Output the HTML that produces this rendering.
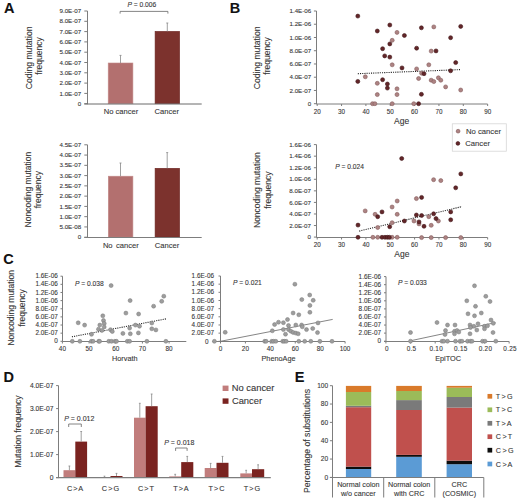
<!DOCTYPE html>
<html><head><meta charset="utf-8"><style>
html,body{margin:0;padding:0;background:#fff;}
body{width:520px;height:500px;overflow:hidden;}
svg{display:block;font-family:"Liberation Sans", sans-serif;}
text{stroke:#444;stroke-width:0.1px;}
</style></head><body>
<svg width="520" height="500" viewBox="0 0 520 500" font-family='"Liberation Sans", sans-serif'>
<rect width="520" height="500" fill="#fff"/>
<text x="4" y="12.8" font-size="14.5" font-weight="bold" fill="#111">A</text>
<line x1="87.50" y1="104.20" x2="87.50" y2="11.00" stroke="#7d7d7d" stroke-width="1" />
<line x1="84.30" y1="103.70" x2="87.50" y2="103.70" stroke="#7d7d7d" stroke-width="1" />
<text x="81.20" y="105.83" font-size="6.2" text-anchor="end" fill="#333" font-weight="normal" font-style="normal" >0</text>
<line x1="84.30" y1="93.40" x2="87.50" y2="93.40" stroke="#7d7d7d" stroke-width="1" />
<text x="81.20" y="95.53" font-size="6.2" text-anchor="end" fill="#333" font-weight="normal" font-style="normal" >1.0E-07</text>
<line x1="84.30" y1="83.10" x2="87.50" y2="83.10" stroke="#7d7d7d" stroke-width="1" />
<text x="81.20" y="85.23" font-size="6.2" text-anchor="end" fill="#333" font-weight="normal" font-style="normal" >2.0E-07</text>
<line x1="84.30" y1="72.80" x2="87.50" y2="72.80" stroke="#7d7d7d" stroke-width="1" />
<text x="81.20" y="74.93" font-size="6.2" text-anchor="end" fill="#333" font-weight="normal" font-style="normal" >3.0E-07</text>
<line x1="84.30" y1="62.50" x2="87.50" y2="62.50" stroke="#7d7d7d" stroke-width="1" />
<text x="81.20" y="64.63" font-size="6.2" text-anchor="end" fill="#333" font-weight="normal" font-style="normal" >4.0E-07</text>
<line x1="84.30" y1="52.20" x2="87.50" y2="52.20" stroke="#7d7d7d" stroke-width="1" />
<text x="81.20" y="54.33" font-size="6.2" text-anchor="end" fill="#333" font-weight="normal" font-style="normal" >5.0E-07</text>
<line x1="84.30" y1="41.90" x2="87.50" y2="41.90" stroke="#7d7d7d" stroke-width="1" />
<text x="81.20" y="44.03" font-size="6.2" text-anchor="end" fill="#333" font-weight="normal" font-style="normal" >6.0E-07</text>
<line x1="84.30" y1="31.60" x2="87.50" y2="31.60" stroke="#7d7d7d" stroke-width="1" />
<text x="81.20" y="33.73" font-size="6.2" text-anchor="end" fill="#333" font-weight="normal" font-style="normal" >7.0E-07</text>
<line x1="84.30" y1="21.30" x2="87.50" y2="21.30" stroke="#7d7d7d" stroke-width="1" />
<text x="81.20" y="23.43" font-size="6.2" text-anchor="end" fill="#333" font-weight="normal" font-style="normal" >8.0E-07</text>
<line x1="84.30" y1="11.00" x2="87.50" y2="11.00" stroke="#7d7d7d" stroke-width="1" />
<text x="81.20" y="13.13" font-size="6.2" text-anchor="end" fill="#333" font-weight="normal" font-style="normal" >9.0E-07</text>
<rect x="108.20" y="63.00" width="24.70" height="40.70" fill="#b3706f" stroke="#c48a89" stroke-width="0.6"/>
<rect x="155.10" y="31.40" width="24.50" height="72.30" fill="#7c322d" stroke="#6b2420" stroke-width="0.6"/>
<line x1="84.30" y1="104.00" x2="201.70" y2="104.00" stroke="#6a6a6a" stroke-width="1" />
<line x1="120.50" y1="63.00" x2="120.50" y2="55.40" stroke="#888" stroke-width="0.8" />
<line x1="119.50" y1="55.40" x2="121.50" y2="55.40" stroke="#888" stroke-width="0.8" />
<line x1="167.30" y1="31.40" x2="167.30" y2="23.00" stroke="#888" stroke-width="0.8" />
<line x1="166.30" y1="23.00" x2="168.30" y2="23.00" stroke="#888" stroke-width="0.8" />
<path d="M120.1 13.6 V11.4 H167.9 V13.6" fill="none" stroke="#666" stroke-width="0.8"/>
<text x="141.8" y="7.1" font-size="6.7" text-anchor="middle" fill="#333"><tspan font-style="italic">P</tspan> = 0.006</text>
<text x="121.00" y="113.64" font-size="7.6" text-anchor="middle" fill="#333" font-weight="normal" font-style="normal" >No cancer</text>
<text x="166.70" y="113.64" font-size="7.6" text-anchor="middle" fill="#333" font-weight="normal" font-style="normal" >Cancer</text>
<text transform="translate(31.51,57.90) rotate(-90)" font-size="8.65" text-anchor="middle" fill="#333">Coding mutation</text>
<text transform="translate(41.86,56.00) rotate(-90)" font-size="8.5" text-anchor="middle" fill="#333">frequency</text>
<line x1="87.50" y1="237.70" x2="87.50" y2="144.80" stroke="#7d7d7d" stroke-width="1" />
<line x1="84.30" y1="237.20" x2="87.50" y2="237.20" stroke="#7d7d7d" stroke-width="1" />
<text x="81.20" y="239.33" font-size="6.2" text-anchor="end" fill="#333" font-weight="normal" font-style="normal" >0</text>
<line x1="84.30" y1="226.93" x2="87.50" y2="226.93" stroke="#7d7d7d" stroke-width="1" />
<text x="81.20" y="229.07" font-size="6.2" text-anchor="end" fill="#333" font-weight="normal" font-style="normal" >5.0E-08</text>
<line x1="84.30" y1="216.67" x2="87.50" y2="216.67" stroke="#7d7d7d" stroke-width="1" />
<text x="81.20" y="218.80" font-size="6.2" text-anchor="end" fill="#333" font-weight="normal" font-style="normal" >1.0E-07</text>
<line x1="84.30" y1="206.40" x2="87.50" y2="206.40" stroke="#7d7d7d" stroke-width="1" />
<text x="81.20" y="208.53" font-size="6.2" text-anchor="end" fill="#333" font-weight="normal" font-style="normal" >1.5E-07</text>
<line x1="84.30" y1="196.13" x2="87.50" y2="196.13" stroke="#7d7d7d" stroke-width="1" />
<text x="81.20" y="198.27" font-size="6.2" text-anchor="end" fill="#333" font-weight="normal" font-style="normal" >2.0E-07</text>
<line x1="84.30" y1="185.87" x2="87.50" y2="185.87" stroke="#7d7d7d" stroke-width="1" />
<text x="81.20" y="188.00" font-size="6.2" text-anchor="end" fill="#333" font-weight="normal" font-style="normal" >2.5E-07</text>
<line x1="84.30" y1="175.60" x2="87.50" y2="175.60" stroke="#7d7d7d" stroke-width="1" />
<text x="81.20" y="177.73" font-size="6.2" text-anchor="end" fill="#333" font-weight="normal" font-style="normal" >3.0E-07</text>
<line x1="84.30" y1="165.33" x2="87.50" y2="165.33" stroke="#7d7d7d" stroke-width="1" />
<text x="81.20" y="167.47" font-size="6.2" text-anchor="end" fill="#333" font-weight="normal" font-style="normal" >3.5E-07</text>
<line x1="84.30" y1="155.07" x2="87.50" y2="155.07" stroke="#7d7d7d" stroke-width="1" />
<text x="81.20" y="157.20" font-size="6.2" text-anchor="end" fill="#333" font-weight="normal" font-style="normal" >4.0E-07</text>
<line x1="84.30" y1="144.80" x2="87.50" y2="144.80" stroke="#7d7d7d" stroke-width="1" />
<text x="81.20" y="146.93" font-size="6.2" text-anchor="end" fill="#333" font-weight="normal" font-style="normal" >4.5E-07</text>
<rect x="108.30" y="176.20" width="24.60" height="61.00" fill="#b3706f" stroke="#c48a89" stroke-width="0.6"/>
<rect x="155.10" y="168.30" width="24.50" height="68.90" fill="#7c322d" stroke="#6b2420" stroke-width="0.6"/>
<line x1="84.30" y1="237.50" x2="201.70" y2="237.50" stroke="#7d7d7d" stroke-width="1" />
<line x1="120.50" y1="176.20" x2="120.50" y2="163.00" stroke="#888" stroke-width="0.8" />
<line x1="119.50" y1="163.00" x2="121.50" y2="163.00" stroke="#888" stroke-width="0.8" />
<line x1="167.20" y1="168.30" x2="167.20" y2="152.60" stroke="#888" stroke-width="0.8" />
<line x1="166.20" y1="152.60" x2="168.20" y2="152.60" stroke="#888" stroke-width="0.8" />
<text x="120.80" y="247.54" font-size="7.6" text-anchor="middle" fill="#333" font-weight="normal" font-style="normal" word-spacing="1.2">No cancer</text>
<text x="167.10" y="247.54" font-size="7.6" text-anchor="middle" fill="#333" font-weight="normal" font-style="normal" >Cancer</text>
<text transform="translate(30.76,189.60) rotate(-90)" font-size="8.5" text-anchor="middle" fill="#333">Noncoding mutation</text>
<text transform="translate(41.16,189.60) rotate(-90)" font-size="8.5" text-anchor="middle" fill="#333">frequency</text>
<text x="229.7" y="12.9" font-size="14.5" font-weight="bold" fill="#111">B</text>
<line x1="316.50" y1="104.20" x2="316.50" y2="11.00" stroke="#7d7d7d" stroke-width="1" />
<line x1="313.90" y1="103.70" x2="316.50" y2="103.70" stroke="#7d7d7d" stroke-width="1" />
<text x="311.20" y="105.83" font-size="6.2" text-anchor="end" fill="#333" font-weight="normal" font-style="normal" >0</text>
<line x1="313.90" y1="90.46" x2="316.50" y2="90.46" stroke="#7d7d7d" stroke-width="1" />
<text x="311.20" y="92.59" font-size="6.2" text-anchor="end" fill="#333" font-weight="normal" font-style="normal" >2.0E-07</text>
<line x1="313.90" y1="77.21" x2="316.50" y2="77.21" stroke="#7d7d7d" stroke-width="1" />
<text x="311.20" y="79.35" font-size="6.2" text-anchor="end" fill="#333" font-weight="normal" font-style="normal" >4.0E-07</text>
<line x1="313.90" y1="63.97" x2="316.50" y2="63.97" stroke="#7d7d7d" stroke-width="1" />
<text x="311.20" y="66.10" font-size="6.2" text-anchor="end" fill="#333" font-weight="normal" font-style="normal" >6.0E-07</text>
<line x1="313.90" y1="50.73" x2="316.50" y2="50.73" stroke="#7d7d7d" stroke-width="1" />
<text x="311.20" y="52.86" font-size="6.2" text-anchor="end" fill="#333" font-weight="normal" font-style="normal" >8.0E-07</text>
<line x1="313.90" y1="37.49" x2="316.50" y2="37.49" stroke="#7d7d7d" stroke-width="1" />
<text x="311.20" y="39.62" font-size="6.2" text-anchor="end" fill="#333" font-weight="normal" font-style="normal" >1.0E-06</text>
<line x1="313.90" y1="24.24" x2="316.50" y2="24.24" stroke="#7d7d7d" stroke-width="1" />
<text x="311.20" y="26.37" font-size="6.2" text-anchor="end" fill="#333" font-weight="normal" font-style="normal" >1.2E-06</text>
<line x1="313.90" y1="11.00" x2="316.50" y2="11.00" stroke="#7d7d7d" stroke-width="1" />
<text x="311.20" y="13.13" font-size="6.2" text-anchor="end" fill="#333" font-weight="normal" font-style="normal" >1.4E-06</text>
<line x1="316.50" y1="104.00" x2="487.60" y2="104.00" stroke="#7d7d7d" stroke-width="1" />
<line x1="317.20" y1="104.00" x2="317.20" y2="106.00" stroke="#7d7d7d" stroke-width="1" />
<text x="317.20" y="113.87" font-size="6.3" text-anchor="middle" fill="#333" font-weight="normal" font-style="normal" >20</text>
<line x1="341.55" y1="104.00" x2="341.55" y2="106.00" stroke="#7d7d7d" stroke-width="1" />
<text x="341.55" y="113.87" font-size="6.3" text-anchor="middle" fill="#333" font-weight="normal" font-style="normal" >30</text>
<line x1="365.90" y1="104.00" x2="365.90" y2="106.00" stroke="#7d7d7d" stroke-width="1" />
<text x="365.90" y="113.87" font-size="6.3" text-anchor="middle" fill="#333" font-weight="normal" font-style="normal" >40</text>
<line x1="390.25" y1="104.00" x2="390.25" y2="106.00" stroke="#7d7d7d" stroke-width="1" />
<text x="390.25" y="113.87" font-size="6.3" text-anchor="middle" fill="#333" font-weight="normal" font-style="normal" >50</text>
<line x1="414.60" y1="104.00" x2="414.60" y2="106.00" stroke="#7d7d7d" stroke-width="1" />
<text x="414.60" y="113.87" font-size="6.3" text-anchor="middle" fill="#333" font-weight="normal" font-style="normal" >60</text>
<line x1="438.95" y1="104.00" x2="438.95" y2="106.00" stroke="#7d7d7d" stroke-width="1" />
<text x="438.95" y="113.87" font-size="6.3" text-anchor="middle" fill="#333" font-weight="normal" font-style="normal" >70</text>
<line x1="463.30" y1="104.00" x2="463.30" y2="106.00" stroke="#7d7d7d" stroke-width="1" />
<text x="463.30" y="113.87" font-size="6.3" text-anchor="middle" fill="#333" font-weight="normal" font-style="normal" >80</text>
<line x1="487.65" y1="104.00" x2="487.65" y2="106.00" stroke="#7d7d7d" stroke-width="1" />
<text x="487.65" y="113.87" font-size="6.3" text-anchor="middle" fill="#333" font-weight="normal" font-style="normal" >90</text>
<text x="401.60" y="123.56" font-size="8.5" text-anchor="middle" fill="#333" font-weight="normal" font-style="normal" >Age</text>
<text transform="translate(259.81,57.90) rotate(-90)" font-size="8.65" text-anchor="middle" fill="#333">Coding mutation</text>
<text transform="translate(270.36,56.00) rotate(-90)" font-size="8.5" text-anchor="middle" fill="#333">frequency</text>
<line x1="316.50" y1="237.60" x2="316.50" y2="144.60" stroke="#7d7d7d" stroke-width="1" />
<line x1="313.90" y1="237.10" x2="316.50" y2="237.10" stroke="#7d7d7d" stroke-width="1" />
<text x="311.00" y="239.23" font-size="6.2" text-anchor="end" fill="#333" font-weight="normal" font-style="normal" >0</text>
<line x1="313.90" y1="225.54" x2="316.50" y2="225.54" stroke="#7d7d7d" stroke-width="1" />
<text x="311.00" y="227.67" font-size="6.2" text-anchor="end" fill="#333" font-weight="normal" font-style="normal" >2.0E-07</text>
<line x1="313.90" y1="213.97" x2="316.50" y2="213.97" stroke="#7d7d7d" stroke-width="1" />
<text x="311.00" y="216.11" font-size="6.2" text-anchor="end" fill="#333" font-weight="normal" font-style="normal" >4.0E-07</text>
<line x1="313.90" y1="202.41" x2="316.50" y2="202.41" stroke="#7d7d7d" stroke-width="1" />
<text x="311.00" y="204.54" font-size="6.2" text-anchor="end" fill="#333" font-weight="normal" font-style="normal" >6.0E-07</text>
<line x1="313.90" y1="190.85" x2="316.50" y2="190.85" stroke="#7d7d7d" stroke-width="1" />
<text x="311.00" y="192.98" font-size="6.2" text-anchor="end" fill="#333" font-weight="normal" font-style="normal" >8.0E-07</text>
<line x1="313.90" y1="179.29" x2="316.50" y2="179.29" stroke="#7d7d7d" stroke-width="1" />
<text x="311.00" y="181.42" font-size="6.2" text-anchor="end" fill="#333" font-weight="normal" font-style="normal" >1.0E-06</text>
<line x1="313.90" y1="167.72" x2="316.50" y2="167.72" stroke="#7d7d7d" stroke-width="1" />
<text x="311.00" y="169.86" font-size="6.2" text-anchor="end" fill="#333" font-weight="normal" font-style="normal" >1.2E-06</text>
<line x1="313.90" y1="156.16" x2="316.50" y2="156.16" stroke="#7d7d7d" stroke-width="1" />
<text x="311.00" y="158.29" font-size="6.2" text-anchor="end" fill="#333" font-weight="normal" font-style="normal" >1.4E-06</text>
<line x1="313.90" y1="144.60" x2="316.50" y2="144.60" stroke="#7d7d7d" stroke-width="1" />
<text x="311.00" y="146.73" font-size="6.2" text-anchor="end" fill="#333" font-weight="normal" font-style="normal" >1.6E-06</text>
<line x1="316.50" y1="237.50" x2="487.60" y2="237.50" stroke="#7d7d7d" stroke-width="1" />
<line x1="317.20" y1="237.50" x2="317.20" y2="239.50" stroke="#7d7d7d" stroke-width="1" />
<text x="317.20" y="246.87" font-size="6.3" text-anchor="middle" fill="#333" font-weight="normal" font-style="normal" >20</text>
<line x1="341.55" y1="237.50" x2="341.55" y2="239.50" stroke="#7d7d7d" stroke-width="1" />
<text x="341.55" y="246.87" font-size="6.3" text-anchor="middle" fill="#333" font-weight="normal" font-style="normal" >30</text>
<line x1="365.90" y1="237.50" x2="365.90" y2="239.50" stroke="#7d7d7d" stroke-width="1" />
<text x="365.90" y="246.87" font-size="6.3" text-anchor="middle" fill="#333" font-weight="normal" font-style="normal" >40</text>
<line x1="390.25" y1="237.50" x2="390.25" y2="239.50" stroke="#7d7d7d" stroke-width="1" />
<text x="390.25" y="246.87" font-size="6.3" text-anchor="middle" fill="#333" font-weight="normal" font-style="normal" >50</text>
<line x1="414.60" y1="237.50" x2="414.60" y2="239.50" stroke="#7d7d7d" stroke-width="1" />
<text x="414.60" y="246.87" font-size="6.3" text-anchor="middle" fill="#333" font-weight="normal" font-style="normal" >60</text>
<line x1="438.95" y1="237.50" x2="438.95" y2="239.50" stroke="#7d7d7d" stroke-width="1" />
<text x="438.95" y="246.87" font-size="6.3" text-anchor="middle" fill="#333" font-weight="normal" font-style="normal" >70</text>
<line x1="463.30" y1="237.50" x2="463.30" y2="239.50" stroke="#7d7d7d" stroke-width="1" />
<text x="463.30" y="246.87" font-size="6.3" text-anchor="middle" fill="#333" font-weight="normal" font-style="normal" >80</text>
<line x1="487.65" y1="237.50" x2="487.65" y2="239.50" stroke="#7d7d7d" stroke-width="1" />
<text x="487.65" y="246.87" font-size="6.3" text-anchor="middle" fill="#333" font-weight="normal" font-style="normal" >90</text>
<text x="401.80" y="257.06" font-size="8.5" text-anchor="middle" fill="#333" font-weight="normal" font-style="normal" >Age</text>
<text transform="translate(259.66,190.20) rotate(-90)" font-size="8.5" text-anchor="middle" fill="#333">Noncoding mutation</text>
<text transform="translate(270.56,190.10) rotate(-90)" font-size="8.5" text-anchor="middle" fill="#333">frequency</text>
<text x="335.2" y="168.6" font-size="6.7" fill="#333"><tspan font-style="italic">P</tspan> = 0.024</text>
<line x1="357.8" y1="73.7" x2="460.7" y2="69.6" stroke="#222" stroke-width="1.1" stroke-dasharray="1.1,1.1"/>
<line x1="359.2" y1="231.1" x2="462" y2="206.6" stroke="#222" stroke-width="1.1" stroke-dasharray="1.1,1.1"/>
<circle cx="397.00" cy="32.40" r="1.9999999999999998" fill="#ad8383" stroke="#845c5c" stroke-width="0.6"/>
<circle cx="392.20" cy="40.30" r="1.9999999999999998" fill="#ad8383" stroke="#845c5c" stroke-width="0.6"/>
<circle cx="392.20" cy="64.80" r="1.9999999999999998" fill="#ad8383" stroke="#845c5c" stroke-width="0.6"/>
<circle cx="416.60" cy="68.90" r="1.9999999999999998" fill="#ad8383" stroke="#845c5c" stroke-width="0.6"/>
<circle cx="365.30" cy="76.80" r="1.9999999999999998" fill="#ad8383" stroke="#845c5c" stroke-width="0.6"/>
<circle cx="418.60" cy="78.50" r="1.9999999999999998" fill="#ad8383" stroke="#845c5c" stroke-width="0.6"/>
<circle cx="377.30" cy="83.30" r="1.9999999999999998" fill="#ad8383" stroke="#845c5c" stroke-width="0.6"/>
<circle cx="397.00" cy="88.80" r="1.9999999999999998" fill="#ad8383" stroke="#845c5c" stroke-width="0.6"/>
<circle cx="377.30" cy="94.60" r="1.9999999999999998" fill="#ad8383" stroke="#845c5c" stroke-width="0.6"/>
<circle cx="397.00" cy="94.60" r="1.9999999999999998" fill="#ad8383" stroke="#845c5c" stroke-width="0.6"/>
<circle cx="372.50" cy="103.70" r="1.9999999999999998" fill="#ad8383" stroke="#845c5c" stroke-width="0.6"/>
<circle cx="374.90" cy="103.70" r="1.9999999999999998" fill="#ad8383" stroke="#845c5c" stroke-width="0.6"/>
<circle cx="392.20" cy="103.70" r="1.9999999999999998" fill="#ad8383" stroke="#845c5c" stroke-width="0.6"/>
<circle cx="413.80" cy="103.70" r="1.9999999999999998" fill="#ad8383" stroke="#845c5c" stroke-width="0.6"/>
<circle cx="433.80" cy="26.90" r="1.9999999999999998" fill="#ad8383" stroke="#845c5c" stroke-width="0.6"/>
<circle cx="431.20" cy="51.10" r="1.9999999999999998" fill="#ad8383" stroke="#845c5c" stroke-width="0.6"/>
<circle cx="428.80" cy="64.80" r="1.9999999999999998" fill="#ad8383" stroke="#845c5c" stroke-width="0.6"/>
<circle cx="421.60" cy="73.20" r="1.9999999999999998" fill="#ad8383" stroke="#845c5c" stroke-width="0.6"/>
<circle cx="431.20" cy="80.20" r="1.9999999999999998" fill="#ad8383" stroke="#845c5c" stroke-width="0.6"/>
<circle cx="433.80" cy="81.60" r="1.9999999999999998" fill="#ad8383" stroke="#845c5c" stroke-width="0.6"/>
<circle cx="438.40" cy="77.80" r="1.9999999999999998" fill="#ad8383" stroke="#845c5c" stroke-width="0.6"/>
<circle cx="440.80" cy="80.20" r="1.9999999999999998" fill="#ad8383" stroke="#845c5c" stroke-width="0.6"/>
<circle cx="445.60" cy="86.90" r="1.9999999999999998" fill="#ad8383" stroke="#845c5c" stroke-width="0.6"/>
<circle cx="460.70" cy="90.00" r="1.9999999999999998" fill="#ad8383" stroke="#845c5c" stroke-width="0.6"/>
<circle cx="357.80" cy="16.10" r="1.9999999999999998" fill="#632629" stroke="#421719" stroke-width="0.6"/>
<circle cx="389.80" cy="25.00" r="1.9999999999999998" fill="#632629" stroke="#421719" stroke-width="0.6"/>
<circle cx="377.30" cy="31.00" r="1.9999999999999998" fill="#632629" stroke="#421719" stroke-width="0.6"/>
<circle cx="404.40" cy="35.50" r="1.9999999999999998" fill="#632629" stroke="#421719" stroke-width="0.6"/>
<circle cx="389.80" cy="43.90" r="1.9999999999999998" fill="#632629" stroke="#421719" stroke-width="0.6"/>
<circle cx="382.60" cy="48.70" r="1.9999999999999998" fill="#632629" stroke="#421719" stroke-width="0.6"/>
<circle cx="416.60" cy="48.20" r="1.9999999999999998" fill="#632629" stroke="#421719" stroke-width="0.6"/>
<circle cx="384.70" cy="55.90" r="1.9999999999999998" fill="#632629" stroke="#421719" stroke-width="0.6"/>
<circle cx="389.80" cy="57.10" r="1.9999999999999998" fill="#632629" stroke="#421719" stroke-width="0.6"/>
<circle cx="402.00" cy="67.90" r="1.9999999999999998" fill="#632629" stroke="#421719" stroke-width="0.6"/>
<circle cx="357.80" cy="81.40" r="1.9999999999999998" fill="#632629" stroke="#421719" stroke-width="0.6"/>
<circle cx="382.60" cy="79.70" r="1.9999999999999998" fill="#632629" stroke="#421719" stroke-width="0.6"/>
<circle cx="387.40" cy="84.00" r="1.9999999999999998" fill="#632629" stroke="#421719" stroke-width="0.6"/>
<circle cx="387.40" cy="88.10" r="1.9999999999999998" fill="#632629" stroke="#421719" stroke-width="0.6"/>
<circle cx="418.60" cy="103.70" r="1.9999999999999998" fill="#632629" stroke="#421719" stroke-width="0.6"/>
<circle cx="421.40" cy="27.80" r="1.9999999999999998" fill="#632629" stroke="#421719" stroke-width="0.6"/>
<circle cx="460.70" cy="26.40" r="1.9999999999999998" fill="#632629" stroke="#421719" stroke-width="0.6"/>
<circle cx="450.60" cy="37.70" r="1.9999999999999998" fill="#632629" stroke="#421719" stroke-width="0.6"/>
<circle cx="436.00" cy="50.90" r="1.9999999999999998" fill="#632629" stroke="#421719" stroke-width="0.6"/>
<circle cx="455.70" cy="62.60" r="1.9999999999999998" fill="#632629" stroke="#421719" stroke-width="0.6"/>
<circle cx="424.00" cy="73.70" r="1.9999999999999998" fill="#632629" stroke="#421719" stroke-width="0.6"/>
<circle cx="450.60" cy="70.80" r="1.9999999999999998" fill="#632629" stroke="#421719" stroke-width="0.6"/>
<circle cx="421.40" cy="94.30" r="1.9999999999999998" fill="#632629" stroke="#421719" stroke-width="0.6"/>
<circle cx="365.20" cy="210.90" r="1.9999999999999998" fill="#ad8383" stroke="#845c5c" stroke-width="0.6"/>
<circle cx="375.10" cy="214.30" r="1.9999999999999998" fill="#ad8383" stroke="#845c5c" stroke-width="0.6"/>
<circle cx="397.20" cy="201.00" r="1.9999999999999998" fill="#ad8383" stroke="#845c5c" stroke-width="0.6"/>
<circle cx="392.10" cy="207.00" r="1.9999999999999998" fill="#ad8383" stroke="#845c5c" stroke-width="0.6"/>
<circle cx="397.20" cy="214.30" r="1.9999999999999998" fill="#ad8383" stroke="#845c5c" stroke-width="0.6"/>
<circle cx="416.40" cy="198.60" r="1.9999999999999998" fill="#ad8383" stroke="#845c5c" stroke-width="0.6"/>
<circle cx="377.70" cy="227.50" r="1.9999999999999998" fill="#ad8383" stroke="#845c5c" stroke-width="0.6"/>
<circle cx="392.10" cy="222.70" r="1.9999999999999998" fill="#ad8383" stroke="#845c5c" stroke-width="0.6"/>
<circle cx="414.00" cy="221.00" r="1.9999999999999998" fill="#ad8383" stroke="#845c5c" stroke-width="0.6"/>
<circle cx="372.90" cy="237.30" r="1.9999999999999998" fill="#ad8383" stroke="#845c5c" stroke-width="0.6"/>
<circle cx="377.70" cy="237.30" r="1.9999999999999998" fill="#ad8383" stroke="#845c5c" stroke-width="0.6"/>
<circle cx="392.10" cy="237.30" r="1.9999999999999998" fill="#ad8383" stroke="#845c5c" stroke-width="0.6"/>
<circle cx="397.20" cy="237.30" r="1.9999999999999998" fill="#ad8383" stroke="#845c5c" stroke-width="0.6"/>
<circle cx="433.60" cy="179.70" r="1.9999999999999998" fill="#ad8383" stroke="#845c5c" stroke-width="0.6"/>
<circle cx="440.80" cy="180.60" r="1.9999999999999998" fill="#ad8383" stroke="#845c5c" stroke-width="0.6"/>
<circle cx="428.80" cy="216.70" r="1.9999999999999998" fill="#ad8383" stroke="#845c5c" stroke-width="0.6"/>
<circle cx="438.40" cy="221.00" r="1.9999999999999998" fill="#ad8383" stroke="#845c5c" stroke-width="0.6"/>
<circle cx="419.00" cy="223.90" r="1.9999999999999998" fill="#ad8383" stroke="#845c5c" stroke-width="0.6"/>
<circle cx="431.20" cy="225.30" r="1.9999999999999998" fill="#ad8383" stroke="#845c5c" stroke-width="0.6"/>
<circle cx="421.60" cy="237.60" r="1.9999999999999998" fill="#ad8383" stroke="#845c5c" stroke-width="0.6"/>
<circle cx="431.20" cy="237.60" r="1.9999999999999998" fill="#ad8383" stroke="#845c5c" stroke-width="0.6"/>
<circle cx="445.60" cy="237.60" r="1.9999999999999998" fill="#ad8383" stroke="#845c5c" stroke-width="0.6"/>
<circle cx="460.80" cy="237.60" r="1.9999999999999998" fill="#ad8383" stroke="#845c5c" stroke-width="0.6"/>
<circle cx="401.70" cy="158.50" r="1.9999999999999998" fill="#632629" stroke="#421719" stroke-width="0.6"/>
<circle cx="382.00" cy="211.90" r="1.9999999999999998" fill="#632629" stroke="#421719" stroke-width="0.6"/>
<circle cx="377.70" cy="216.70" r="1.9999999999999998" fill="#632629" stroke="#421719" stroke-width="0.6"/>
<circle cx="416.40" cy="215.00" r="1.9999999999999998" fill="#632629" stroke="#421719" stroke-width="0.6"/>
<circle cx="404.40" cy="221.00" r="1.9999999999999998" fill="#632629" stroke="#421719" stroke-width="0.6"/>
<circle cx="358.00" cy="225.10" r="1.9999999999999998" fill="#632629" stroke="#421719" stroke-width="0.6"/>
<circle cx="389.70" cy="226.70" r="1.9999999999999998" fill="#632629" stroke="#421719" stroke-width="0.6"/>
<circle cx="358.00" cy="237.30" r="1.9999999999999998" fill="#632629" stroke="#421719" stroke-width="0.6"/>
<circle cx="382.00" cy="237.30" r="1.9999999999999998" fill="#632629" stroke="#421719" stroke-width="0.6"/>
<circle cx="385.00" cy="237.30" r="1.9999999999999998" fill="#632629" stroke="#421719" stroke-width="0.6"/>
<circle cx="387.30" cy="237.30" r="1.9999999999999998" fill="#632629" stroke="#421719" stroke-width="0.6"/>
<circle cx="389.30" cy="237.30" r="1.9999999999999998" fill="#632629" stroke="#421719" stroke-width="0.6"/>
<circle cx="460.80" cy="173.90" r="1.9999999999999998" fill="#632629" stroke="#421719" stroke-width="0.6"/>
<circle cx="455.70" cy="187.80" r="1.9999999999999998" fill="#632629" stroke="#421719" stroke-width="0.6"/>
<circle cx="421.60" cy="197.40" r="1.9999999999999998" fill="#632629" stroke="#421719" stroke-width="0.6"/>
<circle cx="421.60" cy="215.50" r="1.9999999999999998" fill="#632629" stroke="#421719" stroke-width="0.6"/>
<circle cx="419.00" cy="221.90" r="1.9999999999999998" fill="#632629" stroke="#421719" stroke-width="0.6"/>
<circle cx="424.00" cy="226.30" r="1.9999999999999998" fill="#632629" stroke="#421719" stroke-width="0.6"/>
<circle cx="436.00" cy="218.60" r="1.9999999999999998" fill="#632629" stroke="#421719" stroke-width="0.6"/>
<circle cx="450.70" cy="211.90" r="1.9999999999999998" fill="#632629" stroke="#421719" stroke-width="0.6"/>
<circle cx="450.70" cy="219.80" r="1.9999999999999998" fill="#632629" stroke="#421719" stroke-width="0.6"/>
<circle cx="433.60" cy="213.80" r="1.9999999999999998" fill="#632629" stroke="#421719" stroke-width="0.6"/>
<rect x="452.30" y="123.80" width="54.00" height="27.40" fill="#fff" stroke="#d6d6d6" stroke-width="0.8"/>
<circle cx="458.10" cy="131.20" r="1.9" fill="#ad8383" stroke="#845c5c" stroke-width="0.6"/>
<circle cx="457.90" cy="143.40" r="1.9" fill="#632629" stroke="#421719" stroke-width="0.6"/>
<text x="466.00" y="134.27" font-size="7.7" text-anchor="start" fill="#333" font-weight="normal" font-style="normal" >No cancer</text>
<text x="465.20" y="146.47" font-size="7.7" text-anchor="start" fill="#333" font-weight="normal" font-style="normal" >Cancer</text>
<text x="3.3" y="264.2" font-size="14.5" font-weight="bold" fill="#111">C</text>
<line x1="62.50" y1="341.80" x2="62.50" y2="276.20" stroke="#7d7d7d" stroke-width="1" />
<line x1="60.50" y1="341.30" x2="62.50" y2="341.30" stroke="#7d7d7d" stroke-width="1" />
<text x="57.80" y="343.40" font-size="6.4" text-anchor="end" fill="#333" font-weight="normal" font-style="normal" >0</text>
<line x1="60.50" y1="333.16" x2="62.50" y2="333.16" stroke="#7d7d7d" stroke-width="1" />
<text x="57.80" y="335.27" font-size="6.4" text-anchor="end" fill="#333" font-weight="normal" font-style="normal" >2.0E-07</text>
<line x1="60.50" y1="325.02" x2="62.50" y2="325.02" stroke="#7d7d7d" stroke-width="1" />
<text x="57.80" y="327.13" font-size="6.4" text-anchor="end" fill="#333" font-weight="normal" font-style="normal" >4.0E-07</text>
<line x1="60.50" y1="316.89" x2="62.50" y2="316.89" stroke="#7d7d7d" stroke-width="1" />
<text x="57.80" y="318.99" font-size="6.4" text-anchor="end" fill="#333" font-weight="normal" font-style="normal" >6.0E-07</text>
<line x1="60.50" y1="308.75" x2="62.50" y2="308.75" stroke="#7d7d7d" stroke-width="1" />
<text x="57.80" y="310.85" font-size="6.4" text-anchor="end" fill="#333" font-weight="normal" font-style="normal" >8.0E-07</text>
<line x1="60.50" y1="300.61" x2="62.50" y2="300.61" stroke="#7d7d7d" stroke-width="1" />
<text x="57.80" y="302.72" font-size="6.4" text-anchor="end" fill="#333" font-weight="normal" font-style="normal" >1.0E-06</text>
<line x1="60.50" y1="292.48" x2="62.50" y2="292.48" stroke="#7d7d7d" stroke-width="1" />
<text x="57.80" y="294.58" font-size="6.4" text-anchor="end" fill="#333" font-weight="normal" font-style="normal" >1.2E-06</text>
<line x1="60.50" y1="284.34" x2="62.50" y2="284.34" stroke="#7d7d7d" stroke-width="1" />
<text x="57.80" y="286.44" font-size="6.4" text-anchor="end" fill="#333" font-weight="normal" font-style="normal" >1.4E-06</text>
<line x1="60.50" y1="276.20" x2="62.50" y2="276.20" stroke="#7d7d7d" stroke-width="1" />
<text x="57.80" y="278.30" font-size="6.4" text-anchor="end" fill="#333" font-weight="normal" font-style="normal" >1.6E-06</text>
<line x1="62.50" y1="341.50" x2="186.30" y2="341.50" stroke="#7d7d7d" stroke-width="1" />
<line x1="62.40" y1="341.50" x2="62.40" y2="343.50" stroke="#7d7d7d" stroke-width="1" />
<text x="62.40" y="351.10" font-size="6.4" text-anchor="middle" fill="#333" font-weight="normal" font-style="normal" >40</text>
<line x1="89.07" y1="341.50" x2="89.07" y2="343.50" stroke="#7d7d7d" stroke-width="1" />
<text x="89.07" y="351.10" font-size="6.4" text-anchor="middle" fill="#333" font-weight="normal" font-style="normal" >50</text>
<line x1="115.74" y1="341.50" x2="115.74" y2="343.50" stroke="#7d7d7d" stroke-width="1" />
<text x="115.74" y="351.10" font-size="6.4" text-anchor="middle" fill="#333" font-weight="normal" font-style="normal" >60</text>
<line x1="142.41" y1="341.50" x2="142.41" y2="343.50" stroke="#7d7d7d" stroke-width="1" />
<text x="142.41" y="351.10" font-size="6.4" text-anchor="middle" fill="#333" font-weight="normal" font-style="normal" >70</text>
<line x1="169.08" y1="341.50" x2="169.08" y2="343.50" stroke="#7d7d7d" stroke-width="1" />
<text x="169.08" y="351.10" font-size="6.4" text-anchor="middle" fill="#333" font-weight="normal" font-style="normal" >80</text>
<text x="124.80" y="361.23" font-size="7.3" text-anchor="middle" fill="#333" font-weight="normal" font-style="normal" >Horvath</text>
<text transform="translate(14.36,307.90) rotate(-90)" font-size="8.5" text-anchor="middle" fill="#333">Noncoding mutation</text>
<text transform="translate(25.26,307.90) rotate(-90)" font-size="8.5" text-anchor="middle" fill="#333">frequency</text>
<text x="74.9" y="285.5" font-size="6.7" fill="#333"><tspan font-style="italic">P</tspan> = 0.038</text>
<line x1="71.9" y1="336.8" x2="166.5" y2="318.8" stroke="#222" stroke-width="1.1" stroke-dasharray="1.1,1.1"/>
<circle cx="111.10" cy="285.60" r="2.0" fill="#9d9d9d" stroke="#7b7b7b" stroke-width="0.5"/>
<circle cx="163.80" cy="296.20" r="2.0" fill="#9d9d9d" stroke="#7b7b7b" stroke-width="0.5"/>
<circle cx="161.70" cy="301.30" r="2.0" fill="#9d9d9d" stroke="#7b7b7b" stroke-width="0.5"/>
<circle cx="130.10" cy="300.60" r="2.0" fill="#9d9d9d" stroke="#7b7b7b" stroke-width="0.5"/>
<circle cx="153.60" cy="306.20" r="2.0" fill="#9d9d9d" stroke="#7b7b7b" stroke-width="0.5"/>
<circle cx="125.90" cy="313.10" r="2.0" fill="#9d9d9d" stroke="#7b7b7b" stroke-width="0.5"/>
<circle cx="138.60" cy="314.00" r="2.0" fill="#9d9d9d" stroke="#7b7b7b" stroke-width="0.5"/>
<circle cx="102.80" cy="315.80" r="2.0" fill="#9d9d9d" stroke="#7b7b7b" stroke-width="0.5"/>
<circle cx="103.50" cy="320.50" r="2.0" fill="#9d9d9d" stroke="#7b7b7b" stroke-width="0.5"/>
<circle cx="104.20" cy="323.50" r="2.0" fill="#9d9d9d" stroke="#7b7b7b" stroke-width="0.5"/>
<circle cx="78.20" cy="322.80" r="2.0" fill="#9d9d9d" stroke="#7b7b7b" stroke-width="0.5"/>
<circle cx="84.60" cy="325.10" r="2.0" fill="#9d9d9d" stroke="#7b7b7b" stroke-width="0.5"/>
<circle cx="99.80" cy="325.10" r="2.0" fill="#9d9d9d" stroke="#7b7b7b" stroke-width="0.5"/>
<circle cx="104.20" cy="327.00" r="2.0" fill="#9d9d9d" stroke="#7b7b7b" stroke-width="0.5"/>
<circle cx="135.40" cy="325.10" r="2.0" fill="#9d9d9d" stroke="#7b7b7b" stroke-width="0.5"/>
<circle cx="139.50" cy="326.20" r="2.0" fill="#9d9d9d" stroke="#7b7b7b" stroke-width="0.5"/>
<circle cx="151.80" cy="323.00" r="2.0" fill="#9d9d9d" stroke="#7b7b7b" stroke-width="0.5"/>
<circle cx="98.50" cy="329.20" r="2.0" fill="#9d9d9d" stroke="#7b7b7b" stroke-width="0.5"/>
<circle cx="101.90" cy="330.40" r="2.0" fill="#9d9d9d" stroke="#7b7b7b" stroke-width="0.5"/>
<circle cx="110.50" cy="329.70" r="2.0" fill="#9d9d9d" stroke="#7b7b7b" stroke-width="0.5"/>
<circle cx="112.30" cy="331.50" r="2.0" fill="#9d9d9d" stroke="#7b7b7b" stroke-width="0.5"/>
<circle cx="129.60" cy="328.10" r="2.0" fill="#9d9d9d" stroke="#7b7b7b" stroke-width="0.5"/>
<circle cx="151.80" cy="328.80" r="2.0" fill="#9d9d9d" stroke="#7b7b7b" stroke-width="0.5"/>
<circle cx="155.90" cy="329.90" r="2.0" fill="#9d9d9d" stroke="#7b7b7b" stroke-width="0.5"/>
<circle cx="91.50" cy="334.30" r="2.0" fill="#9d9d9d" stroke="#7b7b7b" stroke-width="0.5"/>
<circle cx="122.90" cy="333.40" r="2.0" fill="#9d9d9d" stroke="#7b7b7b" stroke-width="0.5"/>
<circle cx="130.30" cy="333.80" r="2.0" fill="#9d9d9d" stroke="#7b7b7b" stroke-width="0.5"/>
<circle cx="138.40" cy="332.90" r="2.0" fill="#9d9d9d" stroke="#7b7b7b" stroke-width="0.5"/>
<circle cx="72.30" cy="341.30" r="2.0" fill="#9d9d9d" stroke="#7b7b7b" stroke-width="0.5"/>
<circle cx="79.90" cy="341.30" r="2.0" fill="#9d9d9d" stroke="#7b7b7b" stroke-width="0.5"/>
<circle cx="91.30" cy="341.30" r="2.0" fill="#9d9d9d" stroke="#7b7b7b" stroke-width="0.5"/>
<circle cx="93.10" cy="341.30" r="2.0" fill="#9d9d9d" stroke="#7b7b7b" stroke-width="0.5"/>
<circle cx="98.70" cy="341.30" r="2.0" fill="#9d9d9d" stroke="#7b7b7b" stroke-width="0.5"/>
<circle cx="99.60" cy="341.30" r="2.0" fill="#9d9d9d" stroke="#7b7b7b" stroke-width="0.5"/>
<circle cx="108.80" cy="341.30" r="2.0" fill="#9d9d9d" stroke="#7b7b7b" stroke-width="0.5"/>
<circle cx="111.50" cy="341.30" r="2.0" fill="#9d9d9d" stroke="#7b7b7b" stroke-width="0.5"/>
<circle cx="114.90" cy="341.30" r="2.0" fill="#9d9d9d" stroke="#7b7b7b" stroke-width="0.5"/>
<circle cx="116.50" cy="341.30" r="2.0" fill="#9d9d9d" stroke="#7b7b7b" stroke-width="0.5"/>
<circle cx="127.30" cy="341.30" r="2.0" fill="#9d9d9d" stroke="#7b7b7b" stroke-width="0.5"/>
<circle cx="129.60" cy="341.30" r="2.0" fill="#9d9d9d" stroke="#7b7b7b" stroke-width="0.5"/>
<circle cx="146.90" cy="341.30" r="2.0" fill="#9d9d9d" stroke="#7b7b7b" stroke-width="0.5"/>
<circle cx="165.90" cy="341.30" r="2.0" fill="#9d9d9d" stroke="#7b7b7b" stroke-width="0.5"/>
<line x1="220.50" y1="341.80" x2="220.50" y2="276.00" stroke="#7d7d7d" stroke-width="1" />
<line x1="218.50" y1="341.30" x2="220.50" y2="341.30" stroke="#7d7d7d" stroke-width="1" />
<text x="214.00" y="343.40" font-size="6.4" text-anchor="end" fill="#333" font-weight="normal" font-style="normal" ></text>
<line x1="218.50" y1="333.14" x2="220.50" y2="333.14" stroke="#7d7d7d" stroke-width="1" />
<text x="214.00" y="335.24" font-size="6.4" text-anchor="end" fill="#333" font-weight="normal" font-style="normal" >2.0E-07</text>
<line x1="218.50" y1="324.98" x2="220.50" y2="324.98" stroke="#7d7d7d" stroke-width="1" />
<text x="214.00" y="327.08" font-size="6.4" text-anchor="end" fill="#333" font-weight="normal" font-style="normal" >4.0E-07</text>
<line x1="218.50" y1="316.81" x2="220.50" y2="316.81" stroke="#7d7d7d" stroke-width="1" />
<text x="214.00" y="318.92" font-size="6.4" text-anchor="end" fill="#333" font-weight="normal" font-style="normal" >6.0E-07</text>
<line x1="218.50" y1="308.65" x2="220.50" y2="308.65" stroke="#7d7d7d" stroke-width="1" />
<text x="214.00" y="310.75" font-size="6.4" text-anchor="end" fill="#333" font-weight="normal" font-style="normal" >8.0E-07</text>
<line x1="218.50" y1="300.49" x2="220.50" y2="300.49" stroke="#7d7d7d" stroke-width="1" />
<text x="214.00" y="302.59" font-size="6.4" text-anchor="end" fill="#333" font-weight="normal" font-style="normal" >1.0E-06</text>
<line x1="218.50" y1="292.32" x2="220.50" y2="292.32" stroke="#7d7d7d" stroke-width="1" />
<text x="214.00" y="294.43" font-size="6.4" text-anchor="end" fill="#333" font-weight="normal" font-style="normal" >1.2E-06</text>
<line x1="218.50" y1="284.16" x2="220.50" y2="284.16" stroke="#7d7d7d" stroke-width="1" />
<text x="214.00" y="286.27" font-size="6.4" text-anchor="end" fill="#333" font-weight="normal" font-style="normal" >1.4E-06</text>
<line x1="218.50" y1="276.00" x2="220.50" y2="276.00" stroke="#7d7d7d" stroke-width="1" />
<text x="214.00" y="278.10" font-size="6.4" text-anchor="end" fill="#333" font-weight="normal" font-style="normal" >1.6E-06</text>
<text x="208.60" y="343.60" font-size="6.4" text-anchor="end" fill="#333" font-weight="normal" font-style="normal" >0</text>
<line x1="212.50" y1="341.50" x2="345.10" y2="341.50" stroke="#7d7d7d" stroke-width="1" />
<line x1="220.50" y1="341.50" x2="220.50" y2="343.50" stroke="#7d7d7d" stroke-width="1" />
<text x="220.50" y="350.90" font-size="6.4" text-anchor="middle" fill="#333" font-weight="normal" font-style="normal" >0</text>
<line x1="245.42" y1="341.50" x2="245.42" y2="343.50" stroke="#7d7d7d" stroke-width="1" />
<text x="245.42" y="350.90" font-size="6.4" text-anchor="middle" fill="#333" font-weight="normal" font-style="normal" >20</text>
<line x1="270.34" y1="341.50" x2="270.34" y2="343.50" stroke="#7d7d7d" stroke-width="1" />
<text x="270.34" y="350.90" font-size="6.4" text-anchor="middle" fill="#333" font-weight="normal" font-style="normal" >40</text>
<line x1="295.26" y1="341.50" x2="295.26" y2="343.50" stroke="#7d7d7d" stroke-width="1" />
<text x="295.26" y="350.90" font-size="6.4" text-anchor="middle" fill="#333" font-weight="normal" font-style="normal" >60</text>
<line x1="320.18" y1="341.50" x2="320.18" y2="343.50" stroke="#7d7d7d" stroke-width="1" />
<text x="320.18" y="350.90" font-size="6.4" text-anchor="middle" fill="#333" font-weight="normal" font-style="normal" >80</text>
<line x1="345.10" y1="341.50" x2="345.10" y2="343.50" stroke="#7d7d7d" stroke-width="1" />
<text x="345.10" y="350.90" font-size="6.4" text-anchor="middle" fill="#333" font-weight="normal" font-style="normal" >100</text>
<text x="278.50" y="360.63" font-size="7.3" text-anchor="middle" fill="#333" font-weight="normal" font-style="normal" >PhenoAge</text>
<text x="233" y="285.2" font-size="6.7" fill="#333"><tspan font-style="italic">P</tspan> = 0.021</text>
<line x1="220.5" y1="341.3" x2="332.7" y2="319.4" stroke="#777" stroke-width="0.9"/>
<circle cx="294.90" cy="284.20" r="2.0" fill="#9d9d9d" stroke="#7b7b7b" stroke-width="0.5"/>
<circle cx="309.70" cy="295.00" r="2.0" fill="#9d9d9d" stroke="#7b7b7b" stroke-width="0.5"/>
<circle cx="313.20" cy="300.30" r="2.0" fill="#9d9d9d" stroke="#7b7b7b" stroke-width="0.5"/>
<circle cx="301.80" cy="299.60" r="2.0" fill="#9d9d9d" stroke="#7b7b7b" stroke-width="0.5"/>
<circle cx="309.90" cy="305.40" r="2.0" fill="#9d9d9d" stroke="#7b7b7b" stroke-width="0.5"/>
<circle cx="309.90" cy="312.30" r="2.0" fill="#9d9d9d" stroke="#7b7b7b" stroke-width="0.5"/>
<circle cx="293.10" cy="313.00" r="2.0" fill="#9d9d9d" stroke="#7b7b7b" stroke-width="0.5"/>
<circle cx="298.80" cy="314.80" r="2.0" fill="#9d9d9d" stroke="#7b7b7b" stroke-width="0.5"/>
<circle cx="287.50" cy="319.50" r="2.0" fill="#9d9d9d" stroke="#7b7b7b" stroke-width="0.5"/>
<circle cx="278.50" cy="322.20" r="2.0" fill="#9d9d9d" stroke="#7b7b7b" stroke-width="0.5"/>
<circle cx="274.60" cy="324.50" r="2.0" fill="#9d9d9d" stroke="#7b7b7b" stroke-width="0.5"/>
<circle cx="283.40" cy="322.70" r="2.0" fill="#9d9d9d" stroke="#7b7b7b" stroke-width="0.5"/>
<circle cx="288.50" cy="325.50" r="2.0" fill="#9d9d9d" stroke="#7b7b7b" stroke-width="0.5"/>
<circle cx="295.80" cy="325.00" r="2.0" fill="#9d9d9d" stroke="#7b7b7b" stroke-width="0.5"/>
<circle cx="301.60" cy="325.00" r="2.0" fill="#9d9d9d" stroke="#7b7b7b" stroke-width="0.5"/>
<circle cx="302.30" cy="326.80" r="2.0" fill="#9d9d9d" stroke="#7b7b7b" stroke-width="0.5"/>
<circle cx="318.00" cy="322.90" r="2.0" fill="#9d9d9d" stroke="#7b7b7b" stroke-width="0.5"/>
<circle cx="312.70" cy="328.50" r="2.0" fill="#9d9d9d" stroke="#7b7b7b" stroke-width="0.5"/>
<circle cx="306.50" cy="329.60" r="2.0" fill="#9d9d9d" stroke="#7b7b7b" stroke-width="0.5"/>
<circle cx="272.30" cy="330.80" r="2.0" fill="#9d9d9d" stroke="#7b7b7b" stroke-width="0.5"/>
<circle cx="283.40" cy="329.60" r="2.0" fill="#9d9d9d" stroke="#7b7b7b" stroke-width="0.5"/>
<circle cx="288.50" cy="329.60" r="2.0" fill="#9d9d9d" stroke="#7b7b7b" stroke-width="0.5"/>
<circle cx="290.80" cy="331.20" r="2.0" fill="#9d9d9d" stroke="#7b7b7b" stroke-width="0.5"/>
<circle cx="293.10" cy="332.40" r="2.0" fill="#9d9d9d" stroke="#7b7b7b" stroke-width="0.5"/>
<circle cx="295.80" cy="333.10" r="2.0" fill="#9d9d9d" stroke="#7b7b7b" stroke-width="0.5"/>
<circle cx="298.20" cy="333.80" r="2.0" fill="#9d9d9d" stroke="#7b7b7b" stroke-width="0.5"/>
<circle cx="285.50" cy="334.20" r="2.0" fill="#9d9d9d" stroke="#7b7b7b" stroke-width="0.5"/>
<circle cx="317.50" cy="332.60" r="2.0" fill="#9d9d9d" stroke="#7b7b7b" stroke-width="0.5"/>
<circle cx="225.20" cy="332.30" r="2.0" fill="#9d9d9d" stroke="#7b7b7b" stroke-width="0.5"/>
<circle cx="214.40" cy="341.30" r="2.0" fill="#9d9d9d" stroke="#7b7b7b" stroke-width="0.5"/>
<circle cx="264.70" cy="341.30" r="2.0" fill="#9d9d9d" stroke="#7b7b7b" stroke-width="0.5"/>
<circle cx="266.10" cy="341.30" r="2.0" fill="#9d9d9d" stroke="#7b7b7b" stroke-width="0.5"/>
<circle cx="271.80" cy="341.30" r="2.0" fill="#9d9d9d" stroke="#7b7b7b" stroke-width="0.5"/>
<circle cx="273.50" cy="341.30" r="2.0" fill="#9d9d9d" stroke="#7b7b7b" stroke-width="0.5"/>
<circle cx="275.80" cy="341.30" r="2.0" fill="#9d9d9d" stroke="#7b7b7b" stroke-width="0.5"/>
<circle cx="282.70" cy="341.30" r="2.0" fill="#9d9d9d" stroke="#7b7b7b" stroke-width="0.5"/>
<circle cx="284.30" cy="341.30" r="2.0" fill="#9d9d9d" stroke="#7b7b7b" stroke-width="0.5"/>
<circle cx="286.20" cy="341.30" r="2.0" fill="#9d9d9d" stroke="#7b7b7b" stroke-width="0.5"/>
<circle cx="298.80" cy="341.30" r="2.0" fill="#9d9d9d" stroke="#7b7b7b" stroke-width="0.5"/>
<circle cx="304.70" cy="341.30" r="2.0" fill="#9d9d9d" stroke="#7b7b7b" stroke-width="0.5"/>
<circle cx="310.80" cy="341.30" r="2.0" fill="#9d9d9d" stroke="#7b7b7b" stroke-width="0.5"/>
<circle cx="319.90" cy="341.30" r="2.0" fill="#9d9d9d" stroke="#7b7b7b" stroke-width="0.5"/>
<circle cx="332.00" cy="341.30" r="2.0" fill="#9d9d9d" stroke="#7b7b7b" stroke-width="0.5"/>
<line x1="386.00" y1="341.70" x2="386.00" y2="276.60" stroke="#7d7d7d" stroke-width="1" />
<line x1="384.00" y1="341.20" x2="386.00" y2="341.20" stroke="#7d7d7d" stroke-width="1" />
<text x="381.00" y="343.30" font-size="6.4" text-anchor="end" fill="#333" font-weight="normal" font-style="normal" >0</text>
<line x1="384.00" y1="333.12" x2="386.00" y2="333.12" stroke="#7d7d7d" stroke-width="1" />
<text x="381.00" y="335.23" font-size="6.4" text-anchor="end" fill="#333" font-weight="normal" font-style="normal" >2.0E-07</text>
<line x1="384.00" y1="325.05" x2="386.00" y2="325.05" stroke="#7d7d7d" stroke-width="1" />
<text x="381.00" y="327.15" font-size="6.4" text-anchor="end" fill="#333" font-weight="normal" font-style="normal" >4.0E-07</text>
<line x1="384.00" y1="316.98" x2="386.00" y2="316.98" stroke="#7d7d7d" stroke-width="1" />
<text x="381.00" y="319.08" font-size="6.4" text-anchor="end" fill="#333" font-weight="normal" font-style="normal" >6.0E-07</text>
<line x1="384.00" y1="308.90" x2="386.00" y2="308.90" stroke="#7d7d7d" stroke-width="1" />
<text x="381.00" y="311.00" font-size="6.4" text-anchor="end" fill="#333" font-weight="normal" font-style="normal" >8.0E-07</text>
<line x1="384.00" y1="300.82" x2="386.00" y2="300.82" stroke="#7d7d7d" stroke-width="1" />
<text x="381.00" y="302.93" font-size="6.4" text-anchor="end" fill="#333" font-weight="normal" font-style="normal" >1.0E-06</text>
<line x1="384.00" y1="292.75" x2="386.00" y2="292.75" stroke="#7d7d7d" stroke-width="1" />
<text x="381.00" y="294.85" font-size="6.4" text-anchor="end" fill="#333" font-weight="normal" font-style="normal" >1.2E-06</text>
<line x1="384.00" y1="284.68" x2="386.00" y2="284.68" stroke="#7d7d7d" stroke-width="1" />
<text x="381.00" y="286.78" font-size="6.4" text-anchor="end" fill="#333" font-weight="normal" font-style="normal" >1.4E-06</text>
<line x1="384.00" y1="276.60" x2="386.00" y2="276.60" stroke="#7d7d7d" stroke-width="1" />
<text x="381.00" y="278.70" font-size="6.4" text-anchor="end" fill="#333" font-weight="normal" font-style="normal" >1.6E-06</text>
<line x1="384.00" y1="341.50" x2="509.20" y2="341.50" stroke="#7d7d7d" stroke-width="1" />
<line x1="385.90" y1="341.50" x2="385.90" y2="343.50" stroke="#7d7d7d" stroke-width="1" />
<text x="386.90" y="351.10" font-size="6.4" text-anchor="middle" fill="#333" font-weight="normal" font-style="normal" letter-spacing="0.3">0</text>
<line x1="410.55" y1="341.50" x2="410.55" y2="343.50" stroke="#7d7d7d" stroke-width="1" />
<text x="411.55" y="351.10" font-size="6.4" text-anchor="middle" fill="#333" font-weight="normal" font-style="normal" letter-spacing="0.3">0.5</text>
<line x1="435.20" y1="341.50" x2="435.20" y2="343.50" stroke="#7d7d7d" stroke-width="1" />
<text x="436.20" y="351.10" font-size="6.4" text-anchor="middle" fill="#333" font-weight="normal" font-style="normal" letter-spacing="0.3">0.10</text>
<line x1="459.85" y1="341.50" x2="459.85" y2="343.50" stroke="#7d7d7d" stroke-width="1" />
<text x="460.85" y="351.10" font-size="6.4" text-anchor="middle" fill="#333" font-weight="normal" font-style="normal" letter-spacing="0.3">0.15</text>
<line x1="484.50" y1="341.50" x2="484.50" y2="343.50" stroke="#7d7d7d" stroke-width="1" />
<text x="485.50" y="351.10" font-size="6.4" text-anchor="middle" fill="#333" font-weight="normal" font-style="normal" letter-spacing="0.3">0.20</text>
<line x1="509.15" y1="341.50" x2="509.15" y2="343.50" stroke="#7d7d7d" stroke-width="1" />
<text x="510.15" y="351.10" font-size="6.4" text-anchor="middle" fill="#333" font-weight="normal" font-style="normal" letter-spacing="0.3">0.25</text>
<text x="448.10" y="360.63" font-size="7.3" text-anchor="middle" fill="#333" font-weight="normal" font-style="normal" >EpiTOC</text>
<text x="398" y="285.3" font-size="6.7" fill="#333"><tspan font-style="italic">P</tspan> = 0.033</text>
<line x1="410.3" y1="340.8" x2="495.5" y2="322.6" stroke="#777" stroke-width="0.9"/>
<circle cx="474.50" cy="285.80" r="2.0" fill="#9d9d9d" stroke="#7b7b7b" stroke-width="0.5"/>
<circle cx="485.80" cy="296.30" r="2.0" fill="#9d9d9d" stroke="#7b7b7b" stroke-width="0.5"/>
<circle cx="490.00" cy="301.50" r="2.0" fill="#9d9d9d" stroke="#7b7b7b" stroke-width="0.5"/>
<circle cx="466.80" cy="300.80" r="2.0" fill="#9d9d9d" stroke="#7b7b7b" stroke-width="0.5"/>
<circle cx="475.50" cy="306.30" r="2.0" fill="#9d9d9d" stroke="#7b7b7b" stroke-width="0.5"/>
<circle cx="481.30" cy="313.00" r="2.0" fill="#9d9d9d" stroke="#7b7b7b" stroke-width="0.5"/>
<circle cx="468.00" cy="313.80" r="2.0" fill="#9d9d9d" stroke="#7b7b7b" stroke-width="0.5"/>
<circle cx="474.50" cy="315.80" r="2.0" fill="#9d9d9d" stroke="#7b7b7b" stroke-width="0.5"/>
<circle cx="491.00" cy="320.00" r="2.0" fill="#9d9d9d" stroke="#7b7b7b" stroke-width="0.5"/>
<circle cx="437.00" cy="322.50" r="2.0" fill="#9d9d9d" stroke="#7b7b7b" stroke-width="0.5"/>
<circle cx="447.50" cy="325.00" r="2.0" fill="#9d9d9d" stroke="#7b7b7b" stroke-width="0.5"/>
<circle cx="455.00" cy="325.00" r="2.0" fill="#9d9d9d" stroke="#7b7b7b" stroke-width="0.5"/>
<circle cx="470.00" cy="325.00" r="2.0" fill="#9d9d9d" stroke="#7b7b7b" stroke-width="0.5"/>
<circle cx="473.80" cy="326.30" r="2.0" fill="#9d9d9d" stroke="#7b7b7b" stroke-width="0.5"/>
<circle cx="478.00" cy="323.80" r="2.0" fill="#9d9d9d" stroke="#7b7b7b" stroke-width="0.5"/>
<circle cx="484.50" cy="326.30" r="2.0" fill="#9d9d9d" stroke="#7b7b7b" stroke-width="0.5"/>
<circle cx="487.50" cy="325.80" r="2.0" fill="#9d9d9d" stroke="#7b7b7b" stroke-width="0.5"/>
<circle cx="493.30" cy="323.30" r="2.0" fill="#9d9d9d" stroke="#7b7b7b" stroke-width="0.5"/>
<circle cx="445.50" cy="330.50" r="2.0" fill="#9d9d9d" stroke="#7b7b7b" stroke-width="0.5"/>
<circle cx="454.50" cy="331.30" r="2.0" fill="#9d9d9d" stroke="#7b7b7b" stroke-width="0.5"/>
<circle cx="457.00" cy="330.50" r="2.0" fill="#9d9d9d" stroke="#7b7b7b" stroke-width="0.5"/>
<circle cx="458.80" cy="332.00" r="2.0" fill="#9d9d9d" stroke="#7b7b7b" stroke-width="0.5"/>
<circle cx="470.50" cy="327.50" r="2.0" fill="#9d9d9d" stroke="#7b7b7b" stroke-width="0.5"/>
<circle cx="476.80" cy="330.00" r="2.0" fill="#9d9d9d" stroke="#7b7b7b" stroke-width="0.5"/>
<circle cx="484.50" cy="328.80" r="2.0" fill="#9d9d9d" stroke="#7b7b7b" stroke-width="0.5"/>
<circle cx="445.00" cy="334.50" r="2.0" fill="#9d9d9d" stroke="#7b7b7b" stroke-width="0.5"/>
<circle cx="454.50" cy="333.80" r="2.0" fill="#9d9d9d" stroke="#7b7b7b" stroke-width="0.5"/>
<circle cx="470.00" cy="333.80" r="2.0" fill="#9d9d9d" stroke="#7b7b7b" stroke-width="0.5"/>
<circle cx="493.00" cy="332.50" r="2.0" fill="#9d9d9d" stroke="#7b7b7b" stroke-width="0.5"/>
<circle cx="410.50" cy="332.50" r="2.0" fill="#9d9d9d" stroke="#7b7b7b" stroke-width="0.5"/>
<circle cx="410.50" cy="341.20" r="2.0" fill="#9d9d9d" stroke="#7b7b7b" stroke-width="0.5"/>
<circle cx="442.00" cy="341.20" r="2.0" fill="#9d9d9d" stroke="#7b7b7b" stroke-width="0.5"/>
<circle cx="443.80" cy="341.20" r="2.0" fill="#9d9d9d" stroke="#7b7b7b" stroke-width="0.5"/>
<circle cx="447.50" cy="341.20" r="2.0" fill="#9d9d9d" stroke="#7b7b7b" stroke-width="0.5"/>
<circle cx="455.50" cy="341.20" r="2.0" fill="#9d9d9d" stroke="#7b7b7b" stroke-width="0.5"/>
<circle cx="460.00" cy="341.20" r="2.0" fill="#9d9d9d" stroke="#7b7b7b" stroke-width="0.5"/>
<circle cx="462.00" cy="341.20" r="2.0" fill="#9d9d9d" stroke="#7b7b7b" stroke-width="0.5"/>
<circle cx="467.50" cy="341.20" r="2.0" fill="#9d9d9d" stroke="#7b7b7b" stroke-width="0.5"/>
<circle cx="470.50" cy="341.20" r="2.0" fill="#9d9d9d" stroke="#7b7b7b" stroke-width="0.5"/>
<circle cx="472.00" cy="341.20" r="2.0" fill="#9d9d9d" stroke="#7b7b7b" stroke-width="0.5"/>
<circle cx="482.50" cy="341.20" r="2.0" fill="#9d9d9d" stroke="#7b7b7b" stroke-width="0.5"/>
<circle cx="485.00" cy="341.20" r="2.0" fill="#9d9d9d" stroke="#7b7b7b" stroke-width="0.5"/>
<circle cx="495.80" cy="341.20" r="2.0" fill="#9d9d9d" stroke="#7b7b7b" stroke-width="0.5"/>
<text x="3.5" y="381.6" font-size="14.5" font-weight="bold" fill="#111">D</text>
<line x1="58.50" y1="478.10" x2="58.50" y2="385.60" stroke="#7d7d7d" stroke-width="1" />
<line x1="56.10" y1="477.60" x2="58.50" y2="477.60" stroke="#7d7d7d" stroke-width="1" />
<text x="53.40" y="480.21" font-size="6.7" text-anchor="end" fill="#333" font-weight="normal" font-style="normal" >0</text>
<line x1="56.10" y1="454.60" x2="58.50" y2="454.60" stroke="#7d7d7d" stroke-width="1" />
<text x="53.40" y="457.21" font-size="6.7" text-anchor="end" fill="#333" font-weight="normal" font-style="normal" >1.0E-07</text>
<line x1="56.10" y1="431.60" x2="58.50" y2="431.60" stroke="#7d7d7d" stroke-width="1" />
<text x="53.40" y="434.21" font-size="6.7" text-anchor="end" fill="#333" font-weight="normal" font-style="normal" >2.0E-07</text>
<line x1="56.10" y1="408.60" x2="58.50" y2="408.60" stroke="#7d7d7d" stroke-width="1" />
<text x="53.40" y="411.21" font-size="6.7" text-anchor="end" fill="#333" font-weight="normal" font-style="normal" >3.0E-07</text>
<line x1="56.10" y1="385.60" x2="58.50" y2="385.60" stroke="#7d7d7d" stroke-width="1" />
<text x="53.40" y="388.21" font-size="6.7" text-anchor="end" fill="#333" font-weight="normal" font-style="normal" >4.0E-07</text>
<text transform="translate(20.66,431.60) rotate(-90)" font-size="8.5" text-anchor="middle" fill="#333">Mutation frequency</text>
<rect x="63.50" y="470.20" width="11.80" height="7.50" fill="#c17d7c" stroke="none" stroke-width="0"/>
<rect x="75.30" y="441.60" width="11.80" height="36.10" fill="#7a2320" stroke="none" stroke-width="0"/>
<line x1="69.40" y1="470.20" x2="69.40" y2="466.00" stroke="#888" stroke-width="0.8" />
<line x1="68.50" y1="466.00" x2="70.30" y2="466.00" stroke="#888" stroke-width="0.8" />
<line x1="81.20" y1="441.60" x2="81.20" y2="431.50" stroke="#888" stroke-width="0.8" />
<line x1="80.30" y1="431.50" x2="82.10" y2="431.50" stroke="#888" stroke-width="0.8" />
<rect x="98.50" y="477.00" width="12.00" height="0.70" fill="#c17d7c" stroke="none" stroke-width="0"/>
<rect x="110.50" y="476.00" width="12.00" height="1.70" fill="#7a2320" stroke="none" stroke-width="0"/>
<line x1="104.50" y1="477.00" x2="104.50" y2="476.20" stroke="#888" stroke-width="0.8" />
<line x1="103.60" y1="476.20" x2="105.40" y2="476.20" stroke="#888" stroke-width="0.8" />
<line x1="116.50" y1="476.00" x2="116.50" y2="473.40" stroke="#888" stroke-width="0.8" />
<line x1="115.60" y1="473.40" x2="117.40" y2="473.40" stroke="#888" stroke-width="0.8" />
<rect x="134.00" y="417.70" width="11.60" height="60.00" fill="#c17d7c" stroke="none" stroke-width="0"/>
<rect x="145.60" y="406.20" width="12.10" height="71.50" fill="#7a2320" stroke="none" stroke-width="0"/>
<line x1="139.80" y1="417.70" x2="139.80" y2="403.30" stroke="#888" stroke-width="0.8" />
<line x1="138.90" y1="403.30" x2="140.70" y2="403.30" stroke="#888" stroke-width="0.8" />
<line x1="151.65" y1="406.20" x2="151.65" y2="394.00" stroke="#888" stroke-width="0.8" />
<line x1="150.75" y1="394.00" x2="152.55" y2="394.00" stroke="#888" stroke-width="0.8" />
<rect x="169.20" y="476.40" width="12.00" height="1.30" fill="#c17d7c" stroke="none" stroke-width="0"/>
<rect x="181.20" y="462.10" width="12.10" height="15.60" fill="#7a2320" stroke="none" stroke-width="0"/>
<line x1="175.20" y1="476.40" x2="175.20" y2="474.30" stroke="#888" stroke-width="0.8" />
<line x1="174.30" y1="474.30" x2="176.10" y2="474.30" stroke="#888" stroke-width="0.8" />
<line x1="187.25" y1="462.10" x2="187.25" y2="456.40" stroke="#888" stroke-width="0.8" />
<line x1="186.35" y1="456.40" x2="188.15" y2="456.40" stroke="#888" stroke-width="0.8" />
<rect x="204.70" y="468.00" width="11.80" height="9.70" fill="#c17d7c" stroke="none" stroke-width="0"/>
<rect x="216.50" y="462.80" width="12.00" height="14.90" fill="#7a2320" stroke="none" stroke-width="0"/>
<line x1="210.60" y1="468.00" x2="210.60" y2="463.40" stroke="#888" stroke-width="0.8" />
<line x1="209.70" y1="463.40" x2="211.50" y2="463.40" stroke="#888" stroke-width="0.8" />
<line x1="222.50" y1="462.80" x2="222.50" y2="456.40" stroke="#888" stroke-width="0.8" />
<line x1="221.60" y1="456.40" x2="223.40" y2="456.40" stroke="#888" stroke-width="0.8" />
<rect x="240.30" y="473.40" width="11.70" height="4.30" fill="#c17d7c" stroke="none" stroke-width="0"/>
<rect x="252.00" y="469.20" width="12.20" height="8.50" fill="#7a2320" stroke="none" stroke-width="0"/>
<line x1="246.15" y1="473.40" x2="246.15" y2="470.30" stroke="#888" stroke-width="0.8" />
<line x1="245.25" y1="470.30" x2="247.05" y2="470.30" stroke="#888" stroke-width="0.8" />
<line x1="258.10" y1="469.20" x2="258.10" y2="464.80" stroke="#888" stroke-width="0.8" />
<line x1="257.20" y1="464.80" x2="259.00" y2="464.80" stroke="#888" stroke-width="0.8" />
<line x1="56.10" y1="477.60" x2="270.80" y2="477.60" stroke="#7d7d7d" stroke-width="1.1" />
<text x="75.00" y="491.03" font-size="7.3" text-anchor="middle" fill="#333" font-weight="normal" font-style="normal" word-spacing="-0.9">C &gt; A</text>
<text x="110.50" y="491.03" font-size="7.3" text-anchor="middle" fill="#333" font-weight="normal" font-style="normal" word-spacing="-0.9">C &gt; G</text>
<text x="146.00" y="491.03" font-size="7.3" text-anchor="middle" fill="#333" font-weight="normal" font-style="normal" word-spacing="-0.9">C &gt; T</text>
<text x="181.00" y="491.03" font-size="7.3" text-anchor="middle" fill="#333" font-weight="normal" font-style="normal" word-spacing="-0.9">T &gt; A</text>
<text x="216.50" y="491.03" font-size="7.3" text-anchor="middle" fill="#333" font-weight="normal" font-style="normal" word-spacing="-0.9">T &gt; C</text>
<text x="252.00" y="491.03" font-size="7.3" text-anchor="middle" fill="#333" font-weight="normal" font-style="normal" word-spacing="-0.9">T &gt; G</text>
<path d="M68.7 427 V424 H81.3 V427" fill="none" stroke="#666" stroke-width="0.8"/>
<text x="79.3" y="421" font-size="7" text-anchor="middle" fill="#333"><tspan font-style="italic">P</tspan> = 0.012</text>
<path d="M175.6 450.9 V448 H187.1 V450.9" fill="none" stroke="#666" stroke-width="0.8"/>
<text x="179.3" y="445.3" font-size="7" text-anchor="middle" fill="#333"><tspan font-style="italic">P</tspan> = 0.018</text>
<rect x="222.60" y="385.60" width="5.90" height="5.40" fill="#c17d7c" stroke="none" stroke-width="0"/>
<rect x="222.60" y="398.40" width="5.90" height="5.40" fill="#7a2320" stroke="none" stroke-width="0"/>
<text x="231.70" y="390.98" font-size="9.4" text-anchor="start" fill="#333" font-weight="normal" font-style="normal" >No cancer</text>
<text x="231.90" y="403.88" font-size="9.4" text-anchor="start" fill="#333" font-weight="normal" font-style="normal" >Cancer</text>
<text x="294.7" y="381.8" font-size="14.5" font-weight="bold" fill="#111">E</text>
<line x1="332.50" y1="477.90" x2="332.50" y2="385.70" stroke="#7d7d7d" stroke-width="1" />
<line x1="329.90" y1="477.40" x2="332.50" y2="477.40" stroke="#7d7d7d" stroke-width="1" />
<text x="328.20" y="479.78" font-size="6.6" text-anchor="end" fill="#333" font-weight="normal" font-style="normal" >0</text>
<line x1="329.90" y1="459.06" x2="332.50" y2="459.06" stroke="#7d7d7d" stroke-width="1" />
<text x="328.20" y="461.44" font-size="6.6" text-anchor="end" fill="#333" font-weight="normal" font-style="normal" >20</text>
<line x1="329.90" y1="440.72" x2="332.50" y2="440.72" stroke="#7d7d7d" stroke-width="1" />
<text x="328.20" y="443.10" font-size="6.6" text-anchor="end" fill="#333" font-weight="normal" font-style="normal" >40</text>
<line x1="329.90" y1="422.38" x2="332.50" y2="422.38" stroke="#7d7d7d" stroke-width="1" />
<text x="328.20" y="424.76" font-size="6.6" text-anchor="end" fill="#333" font-weight="normal" font-style="normal" >60</text>
<line x1="329.90" y1="404.04" x2="332.50" y2="404.04" stroke="#7d7d7d" stroke-width="1" />
<text x="328.20" y="406.42" font-size="6.6" text-anchor="end" fill="#333" font-weight="normal" font-style="normal" >80</text>
<line x1="329.90" y1="385.70" x2="332.50" y2="385.70" stroke="#7d7d7d" stroke-width="1" />
<text x="328.20" y="388.08" font-size="6.6" text-anchor="end" fill="#333" font-weight="normal" font-style="normal" >100</text>
<text transform="translate(310.11,441.00) rotate(-90)" font-size="8.65" text-anchor="middle" fill="#333">Percentage of substitutions</text>
<rect x="345.90" y="469.00" width="25.30" height="8.50" fill="#5b9bd5" stroke="none" stroke-width="0"/>
<rect x="345.90" y="466.60" width="25.30" height="2.40" fill="#0d0d0d" stroke="none" stroke-width="0"/>
<rect x="345.90" y="407.20" width="25.30" height="59.40" fill="#c0504d" stroke="none" stroke-width="0"/>
<rect x="345.90" y="405.80" width="25.30" height="1.40" fill="#7a7a7a" stroke="none" stroke-width="0"/>
<rect x="345.90" y="392.00" width="25.30" height="13.80" fill="#9bbb59" stroke="none" stroke-width="0"/>
<rect x="345.90" y="385.90" width="25.30" height="6.10" fill="#d97a2a" stroke="none" stroke-width="0"/>
<rect x="396.20" y="456.80" width="25.60" height="20.70" fill="#5b9bd5" stroke="none" stroke-width="0"/>
<rect x="396.20" y="454.90" width="25.60" height="1.90" fill="#0d0d0d" stroke="none" stroke-width="0"/>
<rect x="396.20" y="410.00" width="25.60" height="44.90" fill="#c0504d" stroke="none" stroke-width="0"/>
<rect x="396.20" y="400.10" width="25.60" height="9.90" fill="#7a7a7a" stroke="none" stroke-width="0"/>
<rect x="396.20" y="391.00" width="25.60" height="9.10" fill="#9bbb59" stroke="none" stroke-width="0"/>
<rect x="396.20" y="385.90" width="25.60" height="5.10" fill="#d97a2a" stroke="none" stroke-width="0"/>
<rect x="446.60" y="464.20" width="25.40" height="13.30" fill="#5b9bd5" stroke="none" stroke-width="0"/>
<rect x="446.60" y="460.60" width="25.40" height="3.60" fill="#0d0d0d" stroke="none" stroke-width="0"/>
<rect x="446.60" y="407.60" width="25.40" height="53.00" fill="#c0504d" stroke="none" stroke-width="0"/>
<rect x="446.60" y="397.00" width="25.40" height="10.60" fill="#7a7a7a" stroke="none" stroke-width="0"/>
<rect x="446.60" y="387.70" width="25.40" height="9.30" fill="#9bbb59" stroke="none" stroke-width="0"/>
<rect x="446.60" y="385.90" width="25.40" height="1.80" fill="#d97a2a" stroke="none" stroke-width="0"/>
<line x1="329.90" y1="477.50" x2="483.80" y2="477.50" stroke="#7d7d7d" stroke-width="1" />
<line x1="332.50" y1="477.50" x2="332.50" y2="497.50" stroke="#7d7d7d" stroke-width="1" />
<line x1="383.70" y1="477.50" x2="383.70" y2="497.50" stroke="#7d7d7d" stroke-width="1" />
<line x1="434.80" y1="477.50" x2="434.80" y2="497.50" stroke="#7d7d7d" stroke-width="1" />
<line x1="483.80" y1="477.50" x2="483.80" y2="497.50" stroke="#7d7d7d" stroke-width="1" />
<text x="358.30" y="487.49" font-size="7.2" text-anchor="middle" fill="#333" font-weight="normal" font-style="normal" >Normal colon</text>
<text x="358.30" y="495.89" font-size="7.2" text-anchor="middle" fill="#333" font-weight="normal" font-style="normal" >w/o cancer</text>
<text x="409.20" y="487.49" font-size="7.2" text-anchor="middle" fill="#333" font-weight="normal" font-style="normal" >Normal colon</text>
<text x="409.20" y="495.89" font-size="7.2" text-anchor="middle" fill="#333" font-weight="normal" font-style="normal" >with CRC</text>
<text x="459.30" y="487.49" font-size="7.2" text-anchor="middle" fill="#333" font-weight="normal" font-style="normal" >CRC</text>
<text x="459.30" y="495.89" font-size="7.2" text-anchor="middle" fill="#333" font-weight="normal" font-style="normal" >(COSMIC)</text>
<rect x="487.50" y="393.95" width="4.70" height="4.70" fill="#d97a2a" stroke="none" stroke-width="0"/>
<text x="495.80" y="398.89" font-size="7.2" text-anchor="start" fill="#333" font-weight="normal" font-style="normal" word-spacing="-0.6">T &gt; G</text>
<rect x="487.50" y="407.45" width="4.70" height="4.70" fill="#9bbb59" stroke="none" stroke-width="0"/>
<text x="495.80" y="412.39" font-size="7.2" text-anchor="start" fill="#333" font-weight="normal" font-style="normal" word-spacing="-0.6">T &gt; C</text>
<rect x="487.50" y="420.95" width="4.70" height="4.70" fill="#7a7a7a" stroke="none" stroke-width="0"/>
<text x="495.80" y="425.89" font-size="7.2" text-anchor="start" fill="#333" font-weight="normal" font-style="normal" word-spacing="-0.6">T &gt; A</text>
<rect x="487.50" y="434.35" width="4.70" height="4.70" fill="#c0504d" stroke="none" stroke-width="0"/>
<text x="495.80" y="439.29" font-size="7.2" text-anchor="start" fill="#333" font-weight="normal" font-style="normal" word-spacing="-0.6">C &gt; T</text>
<rect x="487.50" y="447.85" width="4.70" height="4.70" fill="#0d0d0d" stroke="none" stroke-width="0"/>
<text x="495.80" y="452.79" font-size="7.2" text-anchor="start" fill="#333" font-weight="normal" font-style="normal" word-spacing="-0.6">C &gt; G</text>
<rect x="487.50" y="461.65" width="4.70" height="4.70" fill="#5b9bd5" stroke="none" stroke-width="0"/>
<text x="495.80" y="466.59" font-size="7.2" text-anchor="start" fill="#333" font-weight="normal" font-style="normal" word-spacing="-0.6">C &gt; A</text>
</svg>
</body></html>
